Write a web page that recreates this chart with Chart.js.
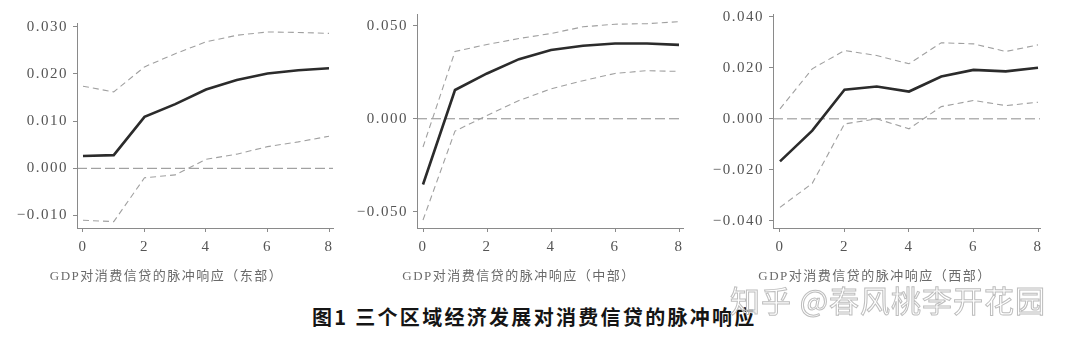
<!DOCTYPE html>
<html><head><meta charset="utf-8">
<script src="https://cdn.jsdelivr.net/npm/chart.js@4"></script>
<style>
html,body{margin:0;padding:0;background:#fff;width:1080px;height:342px;overflow:hidden;position:relative}
canvas{position:absolute;top:0}
#cap{position:absolute;left:312px;top:306px;font-weight:bold;font-size:20px;font-family:"Noto Sans CJK SC";letter-spacing:2.3px;color:#151515;white-space:nowrap;line-height:22px}
#wm{position:absolute;left:730px;top:281px;font-size:30px;font-family:"Noto Sans CJK SC";letter-spacing:1px;color:rgba(255,255,255,0.6);-webkit-text-stroke:1px #bdbdbd;white-space:nowrap;line-height:36px}
</style></head><body>
<canvas id="c1" width="356" height="290" style="left:0px"></canvas>
<canvas id="c2" width="370" height="290" style="left:355px"></canvas>
<canvas id="c3" width="384" height="290" style="left:710px"></canvas>
<div id="cap">图1 三个区域经济发展对消费信贷的脉冲响应</div>
<div id="wm">知乎 @春风桃李开花园</div>
<script>
const periods = [0,1,2,3,4,5,6,7,8];
const xTickValues = [0,2,4,6,8];

const eastIRF   = [0.0026,0.0028,0.0109,0.0136,0.0167,0.0187,0.0201,0.0208,0.0212];
const eastUpper = [0.0174,0.0162,0.0215,0.0243,0.0268,0.0282,0.0289,0.0288,0.0286];
const eastLower = [-0.0110,-0.0113,-0.0020,-0.0014,0.0019,0.0030,0.0046,0.0056,0.0068];
const eastYTicks = [-0.01,0,0.01,0.02,0.03];

const centralIRF   = [-0.0354,0.0155,0.0244,0.0321,0.0370,0.0393,0.0405,0.0405,0.0398];
const centralUpper = [-0.0152,0.0362,0.0400,0.0432,0.0459,0.0495,0.0509,0.0512,0.0523];
const centralLower = [-0.0545,-0.0066,0.0018,0.0098,0.0161,0.0205,0.0244,0.0259,0.0255];
const centralYTicks = [-0.05,0,0.05];

const westIRF   = [-0.0167,-0.0046,0.0114,0.0127,0.0107,0.0166,0.0192,0.0186,0.0200];
const westUpper = [0.0039,0.0196,0.0268,0.0248,0.0216,0.0298,0.0294,0.0264,0.0290];
const westLower = [-0.0347,-0.0253,-0.0020,0.0000,-0.0039,0.0048,0.0072,0.0052,0.0065];
const westYTicks = [-0.04,-0.02,0,0.02,0.04];

const panelTitles = ['GDP对消费信贷的脉冲响应（东部）','GDP对消费信贷的脉冲响应（中部）','GDP对消费信贷的脉冲响应（西部）'];

const AXIS = '#8a8a8a';
const SERIF = '"Liberation Serif","Noto Sans CJK SC",serif';

function pts(vals){ return periods.map((p,i)=>({x:p,y:vals[i]})); }
function fmt(v){ const s=Math.abs(v).toFixed(3); return v < -1e-9 ? '\u2212'+s : s; }

const spacingPlugin = { id:'spacing', beforeDraw(chart){ chart.ctx.letterSpacing='1.5px'; } };
const zeroLinePlugin = { id:'zeroLine', beforeDatasetsDraw(chart){
  const {ctx, chartArea:a, scales:{y}} = chart;
  const py = y.getPixelForValue(0);
  ctx.save(); ctx.strokeStyle='#8c8c8c'; ctx.lineWidth=1; ctx.setLineDash([10,4]);
  ctx.beginPath(); ctx.moveTo(a.left,py); ctx.lineTo(a.right,py); ctx.stroke(); ctx.restore();
}};

function makeChart(id, irf, up, lo, yTicks, title, g){
  const band = {borderColor:'#a0a0a0', borderWidth:1.1, borderDash:[6,4], pointRadius:0, tension:0, fill:false};
  new Chart(document.getElementById(id), {
    type:'line',
    data:{datasets:[
      Object.assign({data:pts(up)}, band),
      Object.assign({data:pts(lo)}, band),
      {data:pts(irf), borderColor:'#2b2b2b', borderWidth:2.6, pointRadius:0, tension:0, fill:false}
    ]},
    options:{
      responsive:false, animation:false, devicePixelRatio:1,
      layout:{padding:{top:g.top, right:g.right, left:0, bottom:0}},
      plugins:{legend:{display:false}, tooltip:{enabled:false},
        title:{display:true, position:'bottom', text:title, color:'#6a6a6a',
          font:{family:SERIF, size:13, weight:'normal'}, padding:{top:0,bottom:5.2}}},
      scales:{
        x:{type:'linear', min:g.xMin, max:g.xMax,
          afterBuildTicks:s=>{ s.ticks = xTickValues.map(v=>({value:v})); },
          afterFit:s=>{ s.height = 41.2; },
          grid:{drawOnChartArea:false, drawTicks:true, tickLength:4, color:AXIS},
          border:{display:true, color:AXIS, width:1},
          ticks:{color:'#555', padding:6, font:{family:SERIF, size:15}, maxRotation:0, callback:v=>String(v)}},
        y:{type:'linear', min:g.yMin, max:g.yMax,
          afterBuildTicks:s=>{ s.ticks = yTicks.map(v=>({value:v})); },
          afterFit:s=>{ s.width = g.yw; },
          grid:{drawOnChartArea:false, drawTicks:true, tickLength:4, color:AXIS},
          border:{display:true, color:AXIS, width:1},
          ticks:{color:'#555', padding:5, font:{family:SERIF, size:15}, callback:v=>fmt(v)}}
      }
    },
    plugins:[spacingPlugin, zeroLinePlugin]
  });
}

makeChart('c1', eastIRF, eastUpper, eastLower, eastYTicks, panelTitles[0],
  {yw:77, top:23, right:23, xMin:-0.195, xMax:8.13, yMin:-0.01265, yMax:0.0308});
makeChart('c2', centralIRF, centralUpper, centralLower, centralYTicks, panelTitles[1],
  {yw:62, top:13, right:42, xMin:-0.1875, xMax:8.125, yMin:-0.0588, yMax:0.0564});
makeChart('c3', westIRF, westUpper, westLower, westYTicks, panelTitles[2],
  {yw:63, top:13, right:54, xMin:-0.217, xMax:8.062, yMin:-0.0428, yMax:0.0411});
</script>
</body></html>
